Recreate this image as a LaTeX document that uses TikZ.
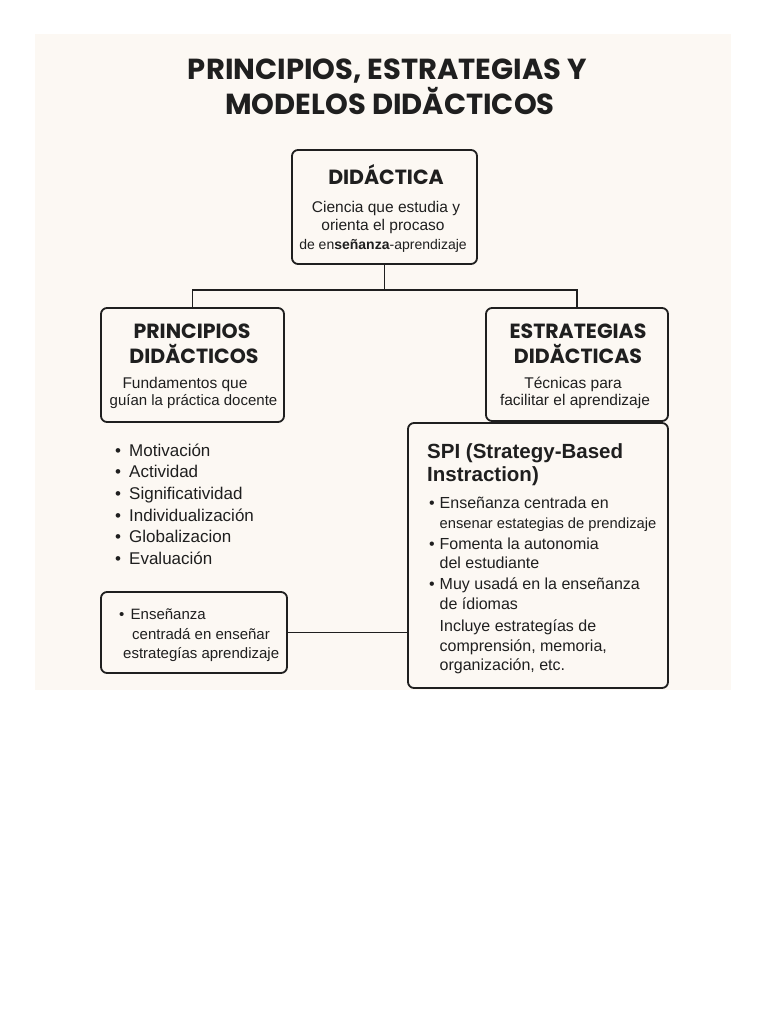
\documentclass[tikz,border=0pt]{standalone}
\usepackage{fontspec}
\setmainfont{Liberation Sans}
\newfontfamily\headfont{Poppins}
\definecolor{bg}{HTML}{FCF8F3}
\definecolor{ink}{HTML}{1F1F1F}
\newcommand\bul[1]{\makebox[#1][l]{•}}
\begin{document}
\begin{tikzpicture}[x=1pt,y=-1pt,
  box/.style={draw=ink, line width=1.8pt, rounded corners=6pt, fill=bg, inner sep=0pt},
  conn/.style={draw=ink, line width=1.8pt},
  ttl/.style={font=\headfont\bfseries\fontsize{29}{31}\selectfont, text=ink, anchor=base, inner sep=0pt},
  hd/.style={font=\headfont\bfseries\fontsize{20.5}{22}\selectfont, text=ink, anchor=base, inner sep=0pt},
  tx/.style={font=\fontsize{15.5}{17}\selectfont, text=ink, anchor=base, inner sep=0pt},
  li/.style={font=\fontsize{17}{19}\selectfont, text=ink, anchor=base west, inner sep=0pt},
  sl/.style={font=\fontsize{16}{18}\selectfont, text=ink, anchor=base west, inner sep=0pt},
  sm/.style={font=\fontsize{14.7}{16}\selectfont, text=ink, anchor=base west, inner sep=0pt},
  eb/.style={font=\fontsize{15}{16}\selectfont, text=ink, anchor=base west, inner sep=0pt},
  spih/.style={font=\bfseries\fontsize{20.5}{22}\selectfont, text=ink, anchor=base west, inner sep=0pt}]
\useasboundingbox (0,0) rectangle (768,1024);
\fill[white] (0,0) rectangle (768,1024);
\fill[bg] (35,34) rectangle (731,690);

% title
\node[ttl] (t1) at (387.5,80) {PRINCIPIOS, ESTRATEGIAS Y};
\node[ttl] (t2) at (390,115) {MODELOS DIDĂCTICOS};

% boxes
\node[box, minimum width=185pt, minimum height=114pt] (did) at (384.5,207) {};
\node[box, minimum width=183pt, minimum height=114pt] (pri) at (192.5,365) {};
\node[box, minimum width=182pt, minimum height=113pt] (est) at (577,364.5) {};
\node[box, minimum width=260pt, minimum height=265pt] (spi) at (538,555.5) {};
\node[box, minimum width=186pt, minimum height=81pt] (ens) at (194,632.5) {};

% connectors
\coordinate (j) at (384.5,290);
\draw[conn] (did.south) -- (j);
\draw[conn] (pri.north) -- (pri.north |- j) -- (est.north |- j) -- (est.north);
\draw[conn] (ens.east) -- (ens.east -| spi.west);

% DIDACTICA
\node[hd] (didh) at (386,185) {DIDÁCTICA};
\node[tx] (did1) at (386,212.5) {Ciencia que estudia y};
\node[tx] (did2) at (383,230.5) {orienta el procaso};
\node[tx, font=\fontsize{14}{16}\selectfont] (did3) at (383,249) {de en\textbf{señanza}-aprendizaje};

% PRINCIPIOS
\node[hd] (prih1) at (192,338) {PRINCIPIOS};
\node[hd] (prih2) at (194,363) {DIDĂCTICOS};
\node[tx] (pri1) at (185,388) {Fundamentos que};
\node[tx, font=\fontsize{15}{17}\selectfont] (pri2) at (193.5,405) {guían la práctica docente};

% ESTRATEGIAS
\node[hd] (esth1) at (578,338) {ESTRATEGIAS};
\node[hd] (esth2) at (578,363) {DIDĂCTICAS};
\node[tx] (est1) at (573,388) {Técnicas para};
\node[tx] (est2) at (575,405) {facilitar el aprendizaje};

% principles list
\node[li] (l1) at (115,456) {\bul{14pt}Motivación};
\node[li] (l2) at (115,477.5) {\bul{14pt}Actividad};
\node[li] (l3) at (115,499) {\bul{14pt}Significatividad};
\node[li] (l4) at (115,521) {\bul{14pt}Individualización};
\node[li] (l5) at (115,542.5) {\bul{14pt}Globalizacion};
\node[li] (l6) at (115,564) {\bul{14pt}Evaluación};

% SPI
\node[spih] (spih1) at (427,458) {SPI (Strategy-Based};
\node[spih] (spih2) at (427,481) {Instraction)};
\node[sl] (s1) at (429,508) {\bul{10.5pt}Enseñanza centrada en};
\node[sm] (s2) at (439.5,528) {ensenar estategias de prendizaje};
\node[sl] (s3) at (429,549) {\bul{10.5pt}Fomenta la autonomia};
\node[sl] (s4) at (439.5,568) {del estudiante};
\node[sl] (s5) at (429,589) {\bul{10.5pt}Muy usadá en la enseñanza};
\node[sl] (s6) at (439.5,609) {de ídiomas};
\node[sl] (s7) at (439.5,631) {Incluye estrategías de};
\node[sl] (s8) at (439.5,651) {comprensión, memoria,};
\node[sl] (s9) at (439.5,670.5) {organización, etc.};

% small box
\node[eb] (e1) at (119,619) {\bul{11.5pt}Enseñanza};
\node[eb] (e2) at (132,639.5) {centradá en enseñar};
\node[eb] (e3) at (123,658.5) {estrategías aprendizaje};
\end{tikzpicture}
\end{document}
